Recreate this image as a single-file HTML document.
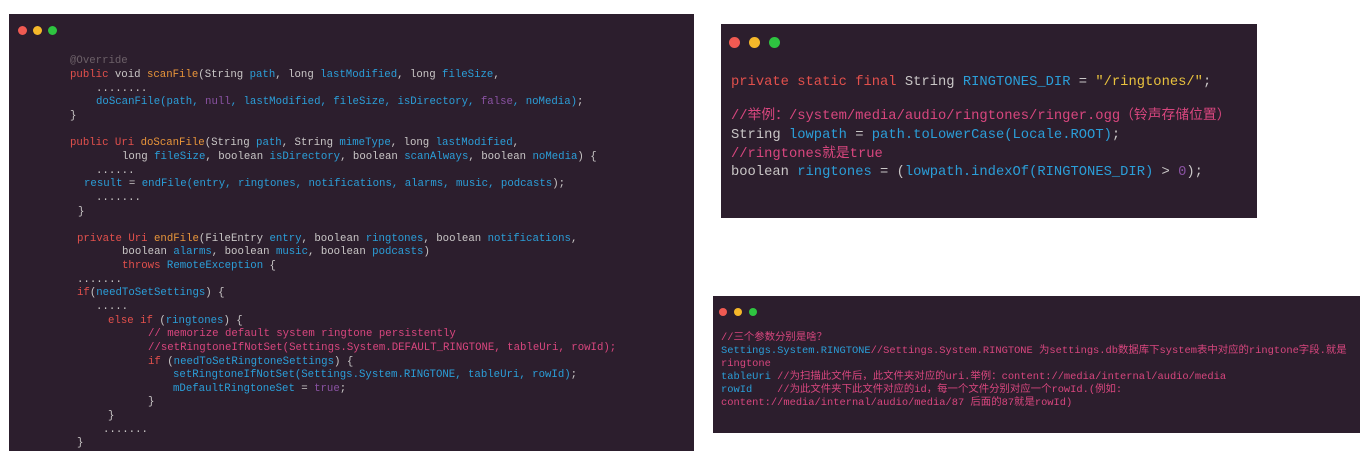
<!DOCTYPE html>
<html><head><meta charset="utf-8"><style>
body{margin:0;width:1365px;height:459px;background:#fff;position:relative;overflow:hidden}
.p{position:absolute;background:#2c1e2d}
.d{position:absolute;border-radius:50%}
.l{position:absolute;white-space:pre;font-family:"Liberation Mono","Noto Sans CJK SC",monospace;color:#c9c6c6}
.A .l{font-size:10.7px;line-height:13px}
.B .l{font-size:13.8px;line-height:18px}
.C .l{font-size:10.4px;line-height:13px}
.k{color:#e2504c}.f{color:#e8953a}.b{color:#2b9ed8}.u{color:#8a52a3}.c{color:#d8467e}.s{color:#e9c23e}.g{color:#6c6068}
</style></head><body>
<div class="p A" style="left:9px;top:14px;width:685px;height:437px">
<div class="d" style="left:9px;top:12px;width:9px;height:9px;background:#f05a52"></div>
<div class="d" style="left:24px;top:12px;width:9px;height:9px;background:#f5b82a"></div>
<div class="d" style="left:39px;top:12px;width:9px;height:9px;background:#2ec440"></div>
</div>
<div class="A">
<div class="l g" style="left:70px;top:55px">@Override</div>
<div class="l" style="left:70px;top:69px"><span class="k">public</span> void <span class="f">scanFile</span>(String <span class="b">path</span>, long <span class="b">lastModified</span>, long <span class="b">fileSize</span>,</div>
<div class="l" style="left:96px;top:83px">........</div>
<div class="l b" style="left:96px;top:96px">doScanFile(path, <span class="u">null</span>, lastModified, fileSize, isDirectory, <span class="u">false</span>, noMedia)<span style="color:#c9c6c6">;</span></div>
<div class="l" style="left:70px;top:110px">}</div>
<div class="l" style="left:70px;top:137px"><span class="k">public</span> <span class="k">Uri</span> <span class="f">doScanFile</span>(String <span class="b">path</span>, String <span class="b">mimeType</span>, long <span class="b">lastModified</span>,</div>
<div class="l" style="left:122px;top:151px">long <span class="b">fileSize</span>, boolean <span class="b">isDirectory</span>, boolean <span class="b">scanAlways</span>, boolean <span class="b">noMedia</span>) {</div>
<div class="l" style="left:96px;top:165px">......</div>
<div class="l b" style="left:84px;top:178px">result <span style="color:#c9c6c6">=</span> endFile(entry, ringtones, notifications, alarms, music, podcasts<span style="color:#c9c6c6">);</span></div>
<div class="l" style="left:96px;top:192px">.......</div>
<div class="l" style="left:78px;top:206px">}</div>
<div class="l" style="left:77px;top:233px"><span class="k">private</span> <span class="k">Uri</span> <span class="f">endFile</span>(FileEntry <span class="b">entry</span>, boolean <span class="b">ringtones</span>, boolean <span class="b">notifications</span>,</div>
<div class="l" style="left:122px;top:246px">boolean <span class="b">alarms</span>, boolean <span class="b">music</span>, boolean <span class="b">podcasts</span>)</div>
<div class="l" style="left:122px;top:260px"><span class="k">throws</span> <span class="b">RemoteException</span> {</div>
<div class="l" style="left:77px;top:274px">.......</div>
<div class="l" style="left:77px;top:287px"><span class="k">if</span>(<span class="b">needToSetSettings</span>) {</div>
<div class="l" style="left:96px;top:301px">.....</div>
<div class="l" style="left:108px;top:315px"><span class="k">else if</span> (<span class="b">ringtones</span>) {</div>
<div class="l c" style="left:148px;top:328px">// memorize default system ringtone persistently</div>
<div class="l c" style="left:148px;top:342px">//setRingtoneIfNotSet(Settings.System.DEFAULT_RINGTONE, tableUri, rowId);</div>
<div class="l" style="left:148px;top:356px"><span class="k">if</span> (<span class="b">needToSetRingtoneSettings</span>) {</div>
<div class="l b" style="left:173px;top:369px">setRingtoneIfNotSet(Settings.System.RINGTONE, tableUri, rowId)<span style="color:#c9c6c6">;</span></div>
<div class="l" style="left:173px;top:383px"><span class="b">mDefaultRingtoneSet</span> = <span class="u">true</span>;</div>
<div class="l" style="left:148px;top:396px">}</div>
<div class="l" style="left:108px;top:410px">}</div>
<div class="l" style="left:103px;top:424px">.......</div>
<div class="l" style="left:77px;top:437px">}</div>
</div>

<div class="p" style="left:721px;top:24px;width:536px;height:194px">
<div class="d" style="left:8px;top:13px;width:11px;height:11px;background:#f05a52"></div>
<div class="d" style="left:28px;top:13px;width:11px;height:11px;background:#f5b82a"></div>
<div class="d" style="left:48px;top:13px;width:11px;height:11px;background:#2ec440"></div>
</div>
<div class="B">
<div class="l" style="left:731px;top:74px"><span class="k">private static final</span> String <span class="b">RINGTONES_DIR</span> = <span class="s">"/ringtones/"</span>;</div>
<div class="l c" style="left:731px;top:108px">//举例：/system/media/audio/ringtones/ringer.ogg（铃声存储位置）</div>
<div class="l" style="left:731px;top:127px">String <span class="b">lowpath</span> = <span class="b">path.toLowerCase(Locale.ROOT)</span>;</div>
<div class="l c" style="left:731px;top:146px">//ringtones就是true</div>
<div class="l" style="left:731px;top:164px">boolean <span class="b">ringtones</span> = (<span class="b">lowpath.indexOf(RINGTONES_DIR)</span> &gt; <span class="u">0</span>);</div>
</div>

<div class="p" style="left:713px;top:296px;width:647px;height:137px">
<div class="d" style="left:6px;top:12px;width:8px;height:8px;background:#f05a52"></div>
<div class="d" style="left:21px;top:12px;width:8px;height:8px;background:#f5b82a"></div>
<div class="d" style="left:36px;top:12px;width:8px;height:8px;background:#2ec440"></div>
</div>
<div class="C">
<div class="l c" style="left:721px;top:332px">//三个参数分别是啥？</div>
<div class="l" style="left:721px;top:345px"><span class="b">Settings.System.RINGTONE</span><span class="c">//Settings.System.RINGTONE 为settings.db数据库下system表中对应的ringtone字段.就是</span></div>
<div class="l c" style="left:721px;top:358px">ringtone</div>
<div class="l" style="left:721px;top:371px"><span class="b">tableUri</span> <span class="c">//为扫描此文件后，此文件夹对应的uri.举例：content://media/internal/audio/media</span></div>
<div class="l" style="left:721px;top:384px"><span class="b">rowId</span>    <span class="c">//为此文件夹下此文件对应的id，每一个文件分别对应一个rowId.(例如:</span></div>
<div class="l c" style="left:721px;top:397px">content://media/internal/audio/media/87 后面的87就是rowId)</div>
</div>
</body></html>
